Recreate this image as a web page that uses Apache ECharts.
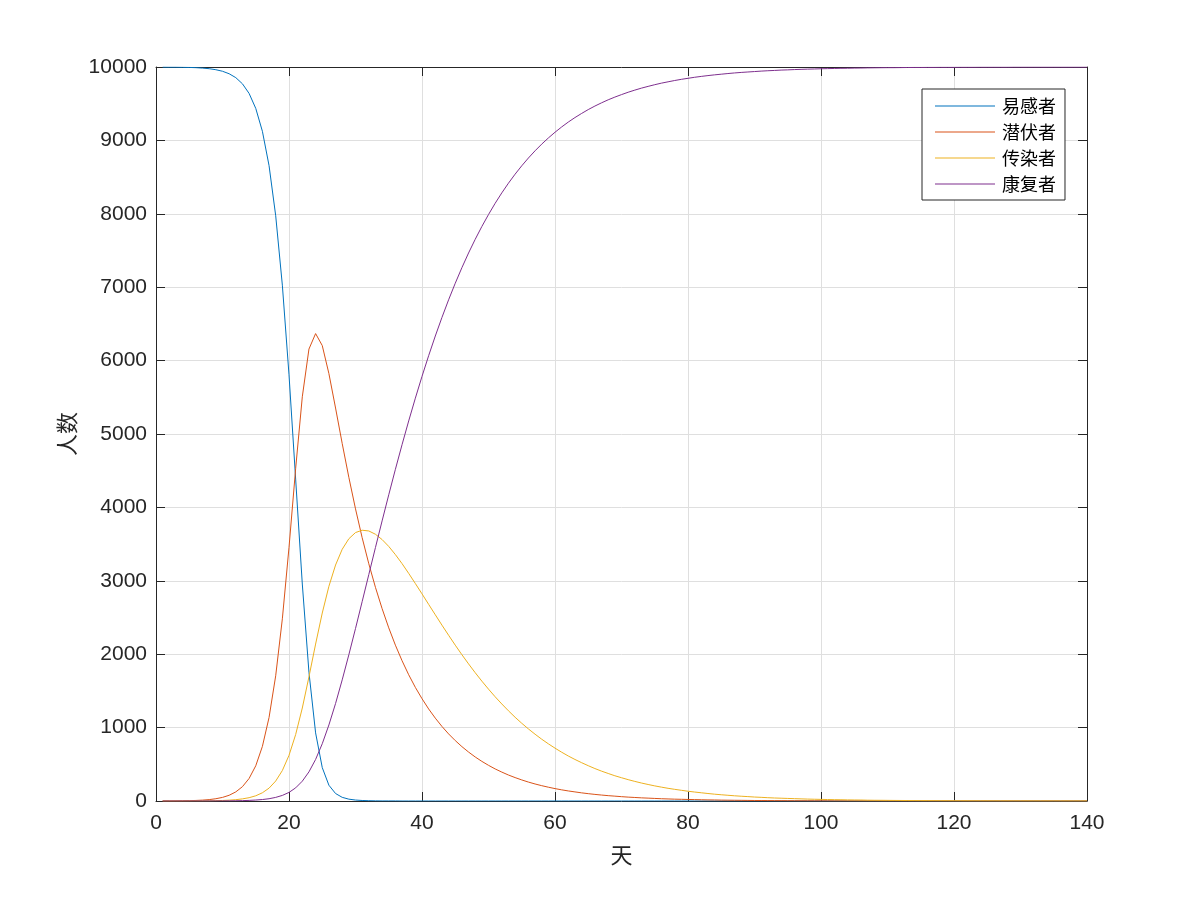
<!DOCTYPE html>
<html>
<head>
<meta charset="utf-8">
<title>SEIR</title>
<script src="https://cdn.jsdelivr.net/npm/echarts@6/dist/echarts.min.js"></script>
<style>
  html, body { margin: 0; padding: 0; background: #fff; }
  #chart { width: 1200px; height: 900px; }
</style>
</head>
<body>
<div id="chart"></div>
<script>
// 天 1..140
var days = [];
for (var d = 1; d <= 140; d++) days.push(d);

// 易感者
var susceptible = [
  9999, 9998, 9998, 9996, 9994, 9991, 9985, 9977, 9963, 9942,
  9908, 9855, 9771, 9640, 9436, 9124, 8656, 7974, 7028, 5806,
  4386, 2956, 1755, 928, 455, 215, 102, 50, 25, 13,
  7, 4, 2, 1, 1, 1, 0, 0, 0, 0,
  0, 0, 0, 0, 0, 0, 0, 0, 0, 0,
  0, 0, 0, 0, 0, 0, 0, 0, 0, 0,
  0, 0, 0, 0, 0, 0, 0, 0, 0, 0,
  0, 0, 0, 0, 0, 0, 0, 0, 0, 0,
  0, 0, 0, 0, 0, 0, 0, 0, 0, 0,
  0, 0, 0, 0, 0, 0, 0, 0, 0, 0,
  0, 0, 0, 0, 0, 0, 0, 0, 0, 0,
  0, 0, 0, 0, 0, 0, 0, 0, 0, 0,
  0, 0, 0, 0, 0, 0, 0, 0, 0, 0,
  0, 0, 0, 0, 0, 0, 0, 0, 0, 0
];

// 潜伏者
var exposed = [
  0, 0.6, 1.4, 2.7, 4.6, 7.5, 12, 19, 31, 49,
  78, 124, 195, 307, 480, 744, 1138, 1706, 2482, 3455,
  4529, 5507, 6157, 6368, 6205, 5823, 5354, 4871, 4409, 3980,
  3588, 3232, 2911, 2621, 2359, 2123, 1911, 1720, 1548, 1394,
  1254, 1129, 1016, 914, 823, 741, 667, 600, 540, 486,
  437, 394, 354, 319, 287, 258, 232, 209, 188, 169,
  152, 137, 124, 111, 100, 90, 81, 73, 66, 59,
  53, 48, 43, 39, 35, 31, 28, 25, 23, 21,
  19, 17, 15, 14, 12, 11, 10, 9, 8, 7,
  6.5, 5.8, 5.2, 4.7, 4.2, 3.8, 3.4, 3.1, 2.8, 2.5,
  2.3, 2.0, 1.8, 1.6, 1.5, 1.3, 1.2, 1.1, 1.0, 0.9,
  0.8, 0.7, 0.6, 0.6, 0.5, 0.5, 0.4, 0.4, 0.3, 0.3,
  0.3, 0.2, 0.2, 0.2, 0.2, 0.2, 0.1, 0.1, 0.1, 0.1,
  0.1, 0.1, 0.1, 0.1, 0.1, 0, 0, 0, 0, 0
];

// 传染者
var infectious = [
  1, 0.9, 0.9, 0.9, 1.1, 1.5, 2.1, 3.1, 4.7, 7.3,
  11.5, 18, 29, 45, 71, 112, 175, 272, 415, 622,
  905, 1267, 1691, 2138, 2561, 2925, 3215, 3429, 3573, 3657,
  3689, 3679, 3634, 3562, 3468, 3357, 3234, 3101, 2963, 2822,
  2679, 2537, 2396, 2258, 2123, 1993, 1868, 1748, 1633, 1524,
  1420, 1322, 1229, 1141, 1059, 982, 910, 842, 779, 720,
  665, 613, 566, 522, 481, 442, 407, 375, 344, 317,
  291, 267, 245, 225, 206, 189, 173, 159, 146, 133,
  122, 112, 102, 93, 85, 78, 71, 65, 60, 54,
  50, 45, 41, 38, 35, 32, 29, 26, 24, 22,
  20, 18, 17, 15, 14, 13, 11, 10, 9.4, 8.6,
  7.8, 7.1, 6.5, 5.9, 5.3, 4.9, 4.4, 4.0, 3.7, 3.3,
  3.0, 2.7, 2.5, 2.2, 2.0, 1.8, 1.7, 1.5, 1.4, 1.3,
  1.1, 1.0, 0.9, 0.8, 0.8, 0.7, 0.6, 0.6, 0.5, 0.5
];

// 康复者
var recovered = [
  0, 0.1, 0.2, 0.3, 0.4, 0.5, 0.6, 0.8, 1.1, 1.6,
  2.3, 3.5, 5.3, 8.2, 13, 20, 31, 49, 76, 117,
  179, 270, 397, 566, 780, 1036, 1328, 1650, 1993, 2350,
  2716, 3085, 3453, 3816, 4172, 4519, 4855, 5178, 5488, 5785,
  6067, 6335, 6588, 6828, 7054, 7266, 7466, 7652, 7827, 7990,
  8143, 8285, 8417, 8540, 8654, 8760, 8858, 8949, 9033, 9111,
  9183, 9250, 9311, 9367, 9420, 9468, 9512, 9553, 9590, 9624,
  9656, 9685, 9712, 9736, 9759, 9780, 9798, 9816, 9832, 9846,
  9860, 9872, 9883, 9893, 9902, 9911, 9919, 9926, 9932, 9938,
  9944, 9949, 9953, 9958, 9961, 9965, 9968, 9971, 9973, 9976,
  9978, 9980, 9982, 9983, 9985, 9986, 9988, 9989, 9990, 9991,
  9991, 9992, 9993, 9994, 9994, 9995, 9995, 9996, 9996, 9996,
  9997, 9997, 9997, 9998, 9998, 9998, 9998, 9998, 9999, 9999,
  9999, 9999, 9999, 9999, 9999, 9999, 9999, 9999, 9999, 9999
];

var seriesNames = ['易感者', '潜伏者', '传染者', '康复者'];
var seriesColors = ['#0072BD', '#D95319', '#EDB120', '#7E2F8E'];
var seriesValues = [susceptible, exposed, infectious, recovered];

var axisColor = '#262626';
var latinFont = '"Liberation Sans", Arial, sans-serif';
var cjkFont = '"Noto Sans CJK SC", sans-serif';

function pairs(values) {
  return days.map(function (d, i) { return [d, values[i]]; });
}

function plain(v) { return String(v); }

// box axes (top / right) only draw the frame and ticks
function frameAxis(pos) {
  var a = {
    type: 'value',
    position: pos,
    axisLine: { show: true, onZero: false, lineStyle: { color: axisColor, width: 1 } },
    axisTick: { show: true, inside: true, length: 9, lineStyle: { color: axisColor } },
    axisLabel: { show: false },
    splitLine: { show: false }
  };
  if (pos === 'top') { a.min = 0; a.max = 140; a.interval = 20; }
  else { a.min = 0; a.max = 10000; a.interval = 1000; }
  return a;
}

var chart = echarts.init(document.getElementById('chart'), null, { renderer: 'canvas' });

var option = {
  backgroundColor: '#fff',
  animation: false,
  grid: { left: 156, top: 67, width: 931, height: 734, containLabel: false },
  legend: {
    orient: 'vertical',
    left: 922,
    top: 89,
    data: seriesNames,
    icon: 'rect',
    itemWidth: 60,
    itemHeight: 1,
    itemGap: 6,
    padding: [7, 9, 6, 13],
    borderColor: axisColor,
    borderWidth: 1,
    borderRadius: 0,
    backgroundColor: '#fff',
    textStyle: { fontFamily: cjkFont, fontSize: 18, lineHeight: 20, color: '#000', padding: [0, 0, 0, 2] }
  },
  xAxis: [{
    type: 'value',
    min: 0,
    max: 140,
    interval: 20,
    name: '天',
    nameLocation: 'middle',
    nameGap: 43,
    nameTextStyle: { fontFamily: cjkFont, fontSize: 22, color: axisColor },
    axisLine: { show: true, onZero: false, lineStyle: { color: axisColor, width: 1 } },
    axisTick: { show: true, inside: true, length: 9, lineStyle: { color: axisColor } },
    axisLabel: { fontFamily: latinFont, fontSize: 21, color: axisColor, margin: 12, formatter: plain },
    splitLine: { show: true, lineStyle: { color: '#dfdfdf', width: 1 } }
  }, frameAxis('top')],
  yAxis: [{
    type: 'value',
    min: 0,
    max: 10000,
    interval: 1000,
    name: '人数',
    nameLocation: 'middle',
    nameGap: 77,
    nameRotate: 90,
    nameTextStyle: { fontFamily: cjkFont, fontSize: 22, color: axisColor },
    axisLine: { show: true, onZero: false, lineStyle: { color: axisColor, width: 1 } },
    axisTick: { show: true, inside: true, length: 9, lineStyle: { color: axisColor } },
    axisLabel: { fontFamily: latinFont, fontSize: 21, color: axisColor, margin: 9, formatter: plain },
    splitLine: { show: true, lineStyle: { color: '#dfdfdf', width: 1 } }
  }, frameAxis('right')],
  series: seriesNames.map(function (name, k) {
    return {
      name: name,
      type: 'line',
      xAxisIndex: 0,
      yAxisIndex: 0,
      data: pairs(seriesValues[k]),
      symbol: 'none',
      smooth: false,
      color: seriesColors[k],
      lineStyle: { color: seriesColors[k], width: 1 },
      z: 3 + k
    };
  })
};

chart.setOption(option);
</script>
</body>
</html>
